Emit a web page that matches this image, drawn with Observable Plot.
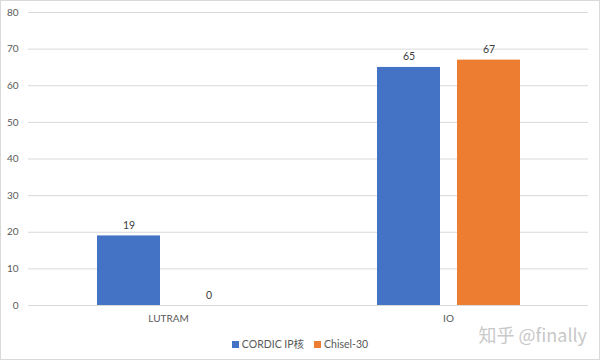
<!DOCTYPE html>
<html>
<head>
<meta charset="utf-8">
<script src="https://cdn.jsdelivr.net/npm/d3@7"></script>
<script src="https://cdn.jsdelivr.net/npm/@observablehq/plot@0.6"></script>
<style>
  body { margin: 0; background: #fff; }
  #frame { position: relative; width: 600px; height: 360px; box-sizing: border-box; border: 1px solid #d9d9d9; overflow: hidden; font-family: Lato, "Noto Sans CJK SC", sans-serif; }
  #chart { position: absolute; left: 0; top: 0; }
  #legend { position: absolute; top: 335px; left: 0; width: 598px; text-align: center; font-size: 10.5px; color: #595959; }
  #legend span.item { display: inline-block; margin: 0 5px; }
  #legend span.sw { display: inline-block; width: 7px; height: 7px; margin-right: 3px; vertical-align: 0px; }
  #wm { position: absolute; right: 12px; top: 321px; white-space: nowrap; font-size: 18px; line-height: 24px; color: #c8c8c8; font-family: "Noto Sans CJK SC", sans-serif; }
</style>
</head>
<body>
<div id="frame">
  <div id="chart"></div>
  <div id="legend"></div>
  <div id="wm">知乎 @finally</div>
</div>
<script>
const categories = ["LUTRAM", "IO"];
const series = ["CORDIC IP核", "Chisel-30"];
const cordicValues = [19, 65];
const chiselValues = [0, 67];
const colors = ["#4472C4", "#ED7D31"];
const yTicks = [0, 10, 20, 30, 40, 50, 60, 70, 80];

const data = categories.flatMap((c, i) => [
  {category: c, series: series[0], value: cordicValues[i]},
  {category: c, series: series[1], value: chiselValues[i]}
]);

const chart = Plot.plot({
  width: 598,
  height: 330,
  marginLeft: 27,
  marginRight: 11,
  marginTop: 11,
  marginBottom: 26,
  style: {fontFamily: 'Lato, "Noto Sans CJK SC", sans-serif', fontSize: "10px", color: "#595959", background: "transparent"},
  fx: {domain: categories, padding: 0, label: null, tickSize: 0, tickPadding: 9, axis: "bottom"},
  x: {domain: series, axis: null, paddingInner: 0.2125, paddingOuter: 0.856},
  y: {domain: [0, 80], ticks: yTicks, tickSize: 0, tickPadding: 10, label: null},
  color: {domain: series, range: colors},
  marks: [
    Plot.gridY(yTicks, {stroke: "#d9d9d9", strokeOpacity: 1}),
    Plot.barY(data, {fx: "category", x: "series", y: "value", fill: "series"}),
    Plot.text(data, {fx: "category", x: "series", y: "value", text: d => String(d.value), dy: -7, lineAnchor: "bottom", fill: "#404040", fontSize: 10.5})
  ]
});
document.getElementById("chart").appendChild(chart);

const legend = document.getElementById("legend");
series.forEach((s, i) => {
  const item = document.createElement("span");
  item.className = "item";
  const sw = document.createElement("span");
  sw.className = "sw";
  sw.style.background = colors[i];
  item.appendChild(sw);
  item.appendChild(document.createTextNode(s));
  legend.appendChild(item);
});
</script>
</body>
</html>
